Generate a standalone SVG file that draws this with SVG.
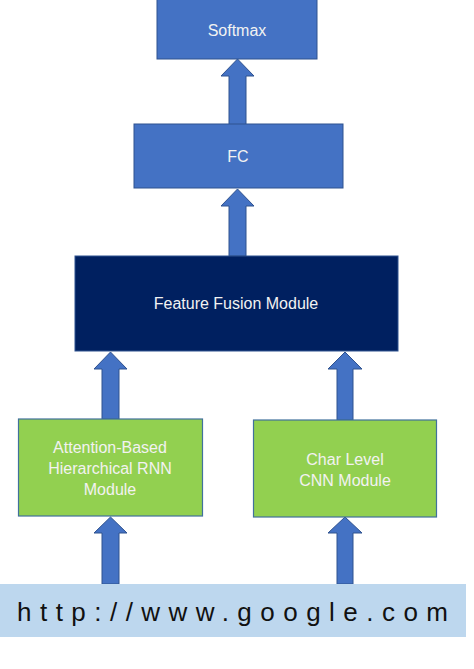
<svg xmlns="http://www.w3.org/2000/svg" width="474" height="669" viewBox="0 0 474 669">
<style>
.blue{fill:#4472C4;stroke:#2F528F;stroke-width:1}
.navy{fill:#002060;stroke:#2F528F;stroke-width:1}
.green{fill:#92D050;stroke:#41719C;stroke-width:1.2}
.arr{fill:#4472C4;stroke:#2F528F;stroke-width:1}
.lbl{font-family:"Liberation Sans",Arial,sans-serif;font-size:16px;fill:#F2F2F2;text-anchor:middle}
</style>
<rect width="474" height="669" fill="#FFFFFF"/>
<g id="connectors">
<path class="arr" d="M237.5,59 L254,76 L246,76 L246,125 L229,125 L229,76 L221,76 Z"/>
<path class="arr" d="M237.5,189 L254,206 L246,206 L246,256 L229,256 L229,206 L221,206 Z"/>
<path class="arr" d="M110.5,352 L127,369 L119,369 L119,419 L102,419 L102,369 L94,369 Z"/>
<path class="arr" d="M345,352 L362,369 L353,369 L353,420 L337,420 L337,369 L328,369 Z"/>
<path class="arr" d="M110.5,517 L127,533 L119,533 L119,584 L102,584 L102,533 L94,533 Z"/>
<path class="arr" d="M345,517 L362,533 L353,533 L353,584 L337,584 L337,533 L328,533 Z"/>
</g>
<g id="softmax">
<rect class="blue" x="157" y="-1" width="160" height="60"/>
<text class="lbl" x="237" y="36">Softmax</text>
</g>
<g id="fc">
<rect class="blue" x="134" y="124" width="209" height="64"/>
<text class="lbl" x="238" y="162">FC</text>
</g>
<g id="fusion">
<rect class="navy" x="75" y="256" width="323" height="95"/>
<text class="lbl" x="236" y="309" font-size="17">Feature Fusion Module</text>
</g>
<g id="rnn">
<rect class="green" x="18.5" y="419" width="184" height="97"/>
<text class="lbl" x="110" y="453">Attention-Based</text>
<text class="lbl" x="110" y="474">Hierarchical RNN</text>
<text class="lbl" x="110" y="495">Module</text>
</g>
<g id="cnn">
<rect class="green" x="253.5" y="420" width="183" height="97"/>
<text class="lbl" x="345" y="464.5">Char Level</text>
<text class="lbl" x="345" y="485.5">CNN Module</text>
</g>
<g id="url">
<rect x="0" y="584" width="466" height="53" fill="#BDD7EE"/>
<text x="17" y="621" font-family="Liberation Sans,Arial,sans-serif" font-size="26" fill="#111111" textLength="431" lengthAdjust="spacing">http://www.google.com</text>
</g>
</svg>
